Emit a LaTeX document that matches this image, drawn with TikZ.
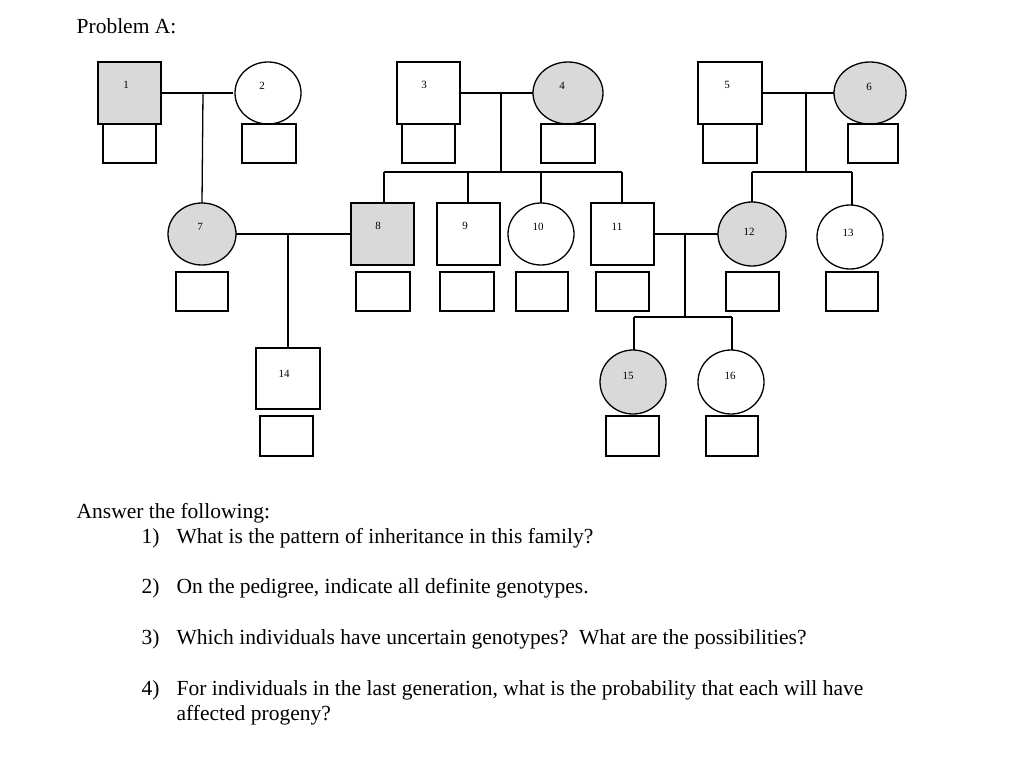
\documentclass[tikz,border=0pt]{standalone}
\usepackage{fontspec}
\setmainfont{Liberation Serif}
\begin{document}
\begin{tikzpicture}[x=1pt,y=-1pt,line width=1.3pt,
 aff/.style={fill=black!15},
 lab/.style={font=\fontsize{11}{12}\selectfont,inner sep=0pt},
 txt/.style={font=\fontsize{21.5}{24}\selectfont,anchor=west,inner sep=0pt}]
\useasboundingbox (0,0) rectangle (1024,768);
\newcommand{\msq}[6]{% name,x1,y1,x2,y2,fill
 \draw[#6] (#2,#3) rectangle (#4,#5);
 \coordinate (#1) at ({(#2+#4)/2},{(#3+#5)/2});
 \coordinate (#1t) at ({(#2+#4)/2},#3);
 \coordinate (#1l) at (#2,{(#3+#5)/2});
 \coordinate (#1r) at (#4,{(#3+#5)/2});}
\newcommand{\mci}[6]{% name,cx,cy,rx,ry,fill
 \draw[#6] (#2,#3) ellipse [x radius=#4, y radius=#5];
 \coordinate (#1) at (#2,#3);
 \coordinate (#1t) at (#2,{#3-#5});
 \coordinate (#1l) at ({#2-#4},#3);
 \coordinate (#1r) at ({#2+#4},#3);}
\newcommand{\gbox}[4]{\draw (#1,#3) rectangle (#2,#4);}
% generation 1
\msq{p1}{98}{62}{161}{124}{aff} \node[lab] at (126,85) {1}; \gbox{103}{156}{124}{163}
\mci{p2}{268}{93}{33}{31}{fill=white} \node[lab] at (262,86) {2}; \gbox{242}{296}{124}{163}
\msq{p3}{397}{62}{460}{124}{fill=white} \node[lab] at (424,85) {3}; \gbox{402}{455}{124}{163}
\mci{p4}{568}{93}{35}{31}{aff} \node[lab] at (562,86) {4}; \gbox{541}{595}{124}{163}
\msq{p5}{698}{62}{762}{124}{fill=white} \node[lab] at (727,85) {5}; \gbox{703}{757}{124}{163}
\mci{p6}{870}{93}{36}{31}{aff} \node[lab] at (869,87) {6}; \gbox{848}{898}{124}{163}
% generation 2
\mci{p7}{202}{234}{34}{31}{aff} \node[lab] at (200,227) {7}; \gbox{176}{228}{272}{311}
\msq{p8}{351}{203}{414}{265}{aff} \node[lab] at (378,226) {8}; \gbox{356}{410}{272}{311}
\msq{p9}{437}{203}{500}{265}{fill=white} \node[lab] at (465,226) {9}; \gbox{440}{494}{272}{311}
\mci{p10}{541}{234}{33}{31}{fill=white} \node[lab] at (538,227) {10}; \gbox{516}{568}{272}{311}
\msq{p11}{591}{203}{654}{265}{fill=white} \node[lab] at (617,227) {11}; \gbox{596}{649}{272}{311}
\mci{p12}{752}{234}{34}{32}{aff} \node[lab] at (749,232) {12}; \gbox{726}{779}{272}{311}
\mci{p13}{850}{237}{33}{32}{fill=white} \node[lab] at (848,233) {13}; \gbox{826}{878}{272}{311}
% generation 3
\msq{p14}{256}{348}{320}{409}{fill=white} \node[lab] at (284,374) {14}; \gbox{260}{313}{416}{456}
\mci{p15}{633}{382}{33}{32}{aff} \node[lab] at (628,376) {15}; \gbox{606}{659}{416}{456}
\mci{p16}{731}{382}{33}{32}{fill=white} \node[lab] at (730,376) {16}; \gbox{706}{758}{416}{456}
% connectors
\draw (p1r) -- (233,93); \draw (203,93) -- (p7t);
\draw (p3r) -- (p4l); \draw (501,93) -- (501,172);
\draw (384,172) -- (622,172);
\draw (384,172) -- (384,203);
\draw (468,172) -- (468,203); \draw (541,172) -- (p10t); \draw (622,172) -- (622,203);
\draw (p5r) -- (834,93); \draw (806,93) -- (806,172);
\draw (752,172) -- (852,172); \draw (752,172) -- (p12t); \draw (852,172) -- (852,205);
\draw (p7r) -- (p8l); \draw (288,234) -- (288,348);
\draw (p11r) -- (p12l); \draw (685,234) -- (685,317);
\draw (634,317) -- (732,317); \draw (634,317) -- (634,350); \draw (732,317) -- (732,350);
% text
\node[txt] at (76,26) {Problem A:};
\node[txt] at (76,513) {Answer the following:};
\node[txt] at (141,538) {1)}; \node[txt] at (176,538) {What is the pattern of inheritance in this family?};
\node[txt] at (141,588) {2)}; \node[txt] at (176,588) {On the pedigree, indicate all definite genotypes.};
\node[txt] at (141,639) {3)}; \node[txt] at (176,639) {Which individuals have uncertain genotypes?\ \ What are the possibilities?};
\node[txt] at (141,690) {4)}; \node[txt] at (176,690) {For individuals in the last generation, what is the probability that each will have};
\node[txt] at (176,715) {affected progeny?};
\end{tikzpicture}
\end{document}
